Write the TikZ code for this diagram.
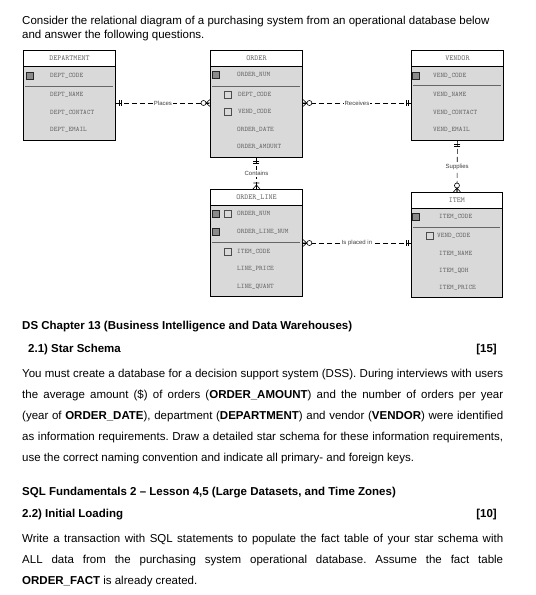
\documentclass[tikz,border=0pt]{standalone}
\usepackage{fontspec}
\setmainfont{Liberation Sans}
\usepackage{xcolor}
\frenchspacing

\definecolor{tblgray}{HTML}{D9D9D9}
\definecolor{attrgray}{HTML}{666666}
\definecolor{keygray}{HTML}{8A8A8A}

\tikzset{
    entity/.style={draw=black, fill=tblgray, line width=0.9pt, minimum width=92pt, inner sep=0pt, anchor=north west},
    enthead/.style={draw=black, fill=white, line width=0.9pt, minimum width=92pt, minimum height=16pt, inner sep=0pt, anchor=north west, text=attrgray, font=\ttfamily\fontsize{7.6}{8}\selectfont},
    attr/.style={anchor=west, inner sep=0pt, text=attrgray, font=\ttfamily\fontsize{6.9}{7}\selectfont},
    pk/.style={draw=black!85, fill=keygray, line width=0.8pt, minimum size=7pt, inner sep=0pt},
    fk/.style={draw=black!70, fill=tblgray, line width=0.9pt, minimum size=7.5pt, inner sep=0pt},
    sepline/.style={draw=black!60, line width=1pt},
    rel/.style={line width=0.6pt, dash pattern=on 5pt off 3pt},
    rellabel/.style={fill=white, inner sep=1pt, text=black!75, font=\fontsize{6}{7}\selectfont},
    cardline/.style={line width=0.6pt, solid},
    txt/.style={anchor=base west, inner sep=0pt, font=\fontsize{11.5}{14}\selectfont},
    head/.style={txt, font=\bfseries\fontsize{11.5}{14}\selectfont},
    para/.style={txt, text width=481pt, align=justify, font=\fontsize{11.5}{21}\selectfont},
    % cardinality ends, drawn with the entity at the origin and the line along +x
    pics/mandone/.style={code={\draw[cardline] (3,-3) -- (3,3) (5,-3) -- (5,3);}},
    pics/onemany/.style={code={\draw[cardline] (0,-3.5) -- (4,0) -- (0,3.5) (0,0) -- (4,0) (6,-3) -- (6,3);}},
    pics/zeromany/.style={code={\draw[cardline] (0,-3.5) -- (4,0) -- (0,3.5) (0,0) -- (4,0); \draw[cardline, fill=white] (6.5,0) circle (2.5pt);}}
}

\begin{document}
\begin{tikzpicture}[x=1pt, y=-1pt]
    \useasboundingbox[fill=white] (0,0) rectangle (536,595);

    \node[txt] (intro1) at (22,24) {Consider the relational diagram of a purchasing system from an operational database below};
    \node[txt] (intro2) at (22,38) {and answer the following questions.};

    % DEPARTMENT
    \node[entity, minimum height=90pt] (dept) at (23,50) {};
    \node[enthead] (depthead) at (dept.north west) {DEPARTMENT};
    \draw[sepline] (25,86) -- (113,86);
    \node[pk] (deptpk) at (30,76) {};
    \node[attr] (deptcode) at (50,76) {DEPT\_CODE};
    \node[attr] (deptname) at (50,95) {DEPT\_NAME};
    \node[attr] (deptcontact) at (50,113) {DEPT\_CONTACT};
    \node[attr] (deptemail) at (50,130) {DEPT\_EMAIL};

    % ORDER
    \node[entity, minimum height=107pt] (order) at (210,50) {};
    \node[enthead] (orderhead) at (order.north west) {ORDER};
    \draw[sepline] (212,86) -- (300,86);
    \node[pk] (orderpk) at (216,75) {};
    \node[fk] (orderfk1) at (228,95) {};
    \node[fk] (orderfk2) at (228,112) {};
    \node[attr] (ordernum) at (237,75) {ORDER\_NUM};
    \node[attr] (orderdept) at (238,95) {DEPT\_CODE};
    \node[attr] (ordervend) at (238,112) {VEND\_CODE};
    \node[attr] (orderdate) at (237,130) {ORDER\_DATE};
    \node[attr] (orderamount) at (237,147) {ORDER\_AMOUNT};

    % VENDOR
    \node[entity, minimum height=90pt] (vendor) at (411,50) {};
    \node[enthead] (vendorhead) at (vendor.north west) {VENDOR};
    \draw[sepline] (413,85) -- (501,85);
    \node[pk] (vendorpk) at (416,76) {};
    \node[attr] (vendcode) at (433,76) {VEND\_CODE};
    \node[attr] (vendname) at (433,95) {VEND\_NAME};
    \node[attr] (vendcontact) at (433,113) {VEND\_CONTACT};
    \node[attr] (vendemail) at (433,130) {VEND\_EMAIL};

    % ORDER_LINE
    \node[entity, minimum height=107pt] (oline) at (210,189) {};
    \node[enthead] (olinehead) at (oline.north west) {ORDER\_LINE};
    \draw[sepline] (212,242) -- (300,242);
    \node[pk] (olinepk1) at (216,214) {};
    \node[fk] (olinefk1) at (228,214) {};
    \node[pk] (olinepk2) at (216,232) {};
    \node[fk] (olinefk2) at (228,252) {};
    \node[attr] (olinenum) at (237,214) {ORDER\_NUM};
    \node[attr] (olinelnum) at (237,232) {ORDER\_LINE\_NUM};
    \node[attr] (olineitem) at (237,252) {ITEM\_CODE};
    \node[attr] (olineprice) at (237,269) {LINE\_PRICE};
    \node[attr] (olinequant) at (237,287) {LINE\_QUANT};

    % ITEM
    \node[entity, minimum width=91pt, minimum height=105pt] (item) at (411,192) {};
    \node[enthead, minimum width=91pt] (itemhead) at (item.north west) {ITEM};
    \draw[sepline] (413,227) -- (500,227);
    \node[pk] (itempk) at (416,217) {};
    \node[fk] (itemfk) at (430,236) {};
    \node[attr] (itemcode) at (439,217) {ITEM\_CODE};
    \node[attr] (itemvend) at (437,236) {VEND\_CODE};
    \node[attr] (itemname) at (439,254) {ITEM\_NAME};
    \node[attr] (itemqoh) at (439,271) {ITEM\_QOH};
    \node[attr] (itemprice) at (439,288) {ITEM\_PRICE};

    % relationships
    \draw[rel] (dept.east |- 0,103) -- node[rellabel] (places) {Places} (order.west |- 0,103);
    \pic at (dept.east |- 0,103) {mandone};
    \pic[rotate=180] at (order.west |- 0,103) {zeromany};

    \draw[rel] (order.east |- 0,103) -- node[rellabel] (receives) {Receives} (vendor.west |- 0,103);
    \pic at (order.east |- 0,103) {zeromany};
    \pic[rotate=180] at (vendor.west |- 0,103) {mandone};

    \draw[rel] (order.south) -- node[rellabel] (contains) {Contains} (oline.north);
    \pic[rotate=-90] at (order.south) {mandone};
    \pic[rotate=90] at (oline.north) {onemany};

    \draw[rel] (vendor.south) -- node[rellabel] (supplies) {Supplies} (item.north);
    \pic[rotate=-90] at (vendor.south) {mandone};
    \pic[rotate=90] at (item.north) {zeromany};

    \draw[rel] (oline.east |- 0,243) -- node[rellabel] (placedin) {Is placed in} (item.west |- 0,243);
    \pic at (oline.east |- 0,243) {zeromany};
    \pic[rotate=180] at (item.west |- 0,243) {mandone};

    % questions
    \node[head] (ch13) at (22,329) {DS Chapter 13 (Business Intelligence and Data Warehouses)};
    \node[head] (q21) at (28,352) {2.1) Star Schema};
    \node[head, anchor=base east] (m15) at (497,352) {[15]};
    \node[para] (p21) at (22,377) {You must create a database for a decision support system (DSS). During interviews with users\linebreak the average amount (\$) of orders (\textbf{ORDER\_AMOUNT}) and the number of orders per year\linebreak (year of \textbf{ORDER\_DATE}), department (\textbf{DEPARTMENT}) and vendor (\textbf{VENDOR}) were identified\linebreak as information requirements. Draw a detailed star schema for these information requirements,\linebreak use the correct naming convention and indicate all primary- and foreign keys.};

    \node[head] (sqlf) at (22,495) {SQL Fundamentals 2 -- Lesson 4,5 (Large Datasets, and Time Zones)};
    \node[head] (q22) at (22,517) {2.2) Initial Loading};
    \node[head, anchor=base east] (m10) at (497,517) {[10]};
    \node[para] (p22) at (22,542) {Write a transaction with SQL statements to populate the fact table of your star schema with\linebreak ALL data from the purchasing system operational database. Assume the fact table\linebreak \textbf{ORDER\_FACT} is already created.};
\end{tikzpicture}
\end{document}
